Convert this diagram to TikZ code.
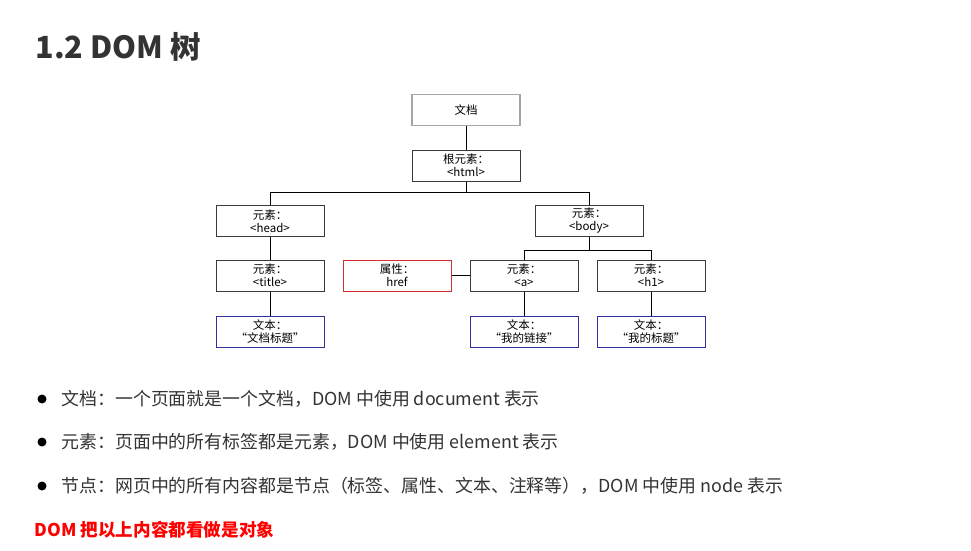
\documentclass[tikz,border=0pt]{standalone}
\usepackage{fontspec}
\setmainfont{Noto Sans CJK SC}
\definecolor{txt}{HTML}{333333}
\definecolor{bx}{HTML}{3A3A3A}
\definecolor{rd}{HTML}{D03030}
\definecolor{bl}{HTML}{3030A0}
\begin{document}
\begin{tikzpicture}[x=1pt,y=-1pt,
  box/.style={draw=bx,line width=1pt,minimum width=108pt,minimum height=31pt,inner sep=0pt,font=\fontsize{11.5}{13}\selectfont,align=center,text=black},
  ln/.style={draw=black,line width=1pt},
  bul/.style={anchor=west,font=\fontsize{17.9}{20}\selectfont,text=txt}]
\useasboundingbox[fill=white] (0,0) rectangle (971,550);
\node[anchor=west,font=\fontsize{30.5}{34}\selectfont\bfseries,text=txt] (title) at (32,47) {1.2 DOM 树};
\node[box,draw=gray!70,line width=1.5pt] (doc) at (466,110) {文档};
\node[box] (html) at (466,165.5) {根元素：\\<html>};
\node[box] (head) at (270,221) {元素：\\<head>};
\node[box] (body) at (589,221) {元素：\\<body>};
\node[box] (tit) at (270,275.5) {元素：\\<title>};
\node[box,draw=rd] (attr) at (397,275.5) {属性：\\href};
\node[box] (a) at (524,275.5) {元素：\\<a>};
\node[box] (h1) at (651,275.5) {元素：\\<h1>};
\node[box,draw=bl] (t1) at (270,331.5) {文本：\\“文档标题”};
\node[box,draw=bl] (t2) at (524,331.5) {文本：\\“我的链接”};
\node[box,draw=bl] (t3) at (651,331.5) {文本：\\“我的标题”};
\draw[ln] (doc) -- (html);
\draw[ln] (html.south) -- ++(0,11) -| (head.north);
\draw[ln] (html.south) -- ++(0,11) -| (body.north);
\draw[ln] (head) -- (tit);
\draw[ln] (tit) -- (t1);
\draw[ln] (body.south) -- ++(0,13) -| (a.north);
\draw[ln] (body.south) -- ++(0,13) -| (h1.north);
\draw[ln] (attr) -- (a);
\draw[ln] (a) -- (t2);
\draw[ln] (h1) -- (t3);
\foreach \y in {399,442,486}{\fill[black] (42,\y) circle (4.5);}
\node[bul] (l1) at (58,399) {文档：一个页面就是一个文档，DOM 中使用 document 表示};
\node[bul] (l2) at (58,442) {元素：页面中的所有标签都是元素，DOM 中使用 element 表示};
\node[bul] (l3) at (58,486) {节点：网页中的所有内容都是节点（标签、属性、文本、注释等），DOM 中使用 node 表示};
\node[anchor=west,font=\fontsize{17.6}{20}\selectfont\bfseries,text=red] (l4) at (31,530) {DOM 把以上内容都看做是对象};
\end{tikzpicture}
\end{document}
